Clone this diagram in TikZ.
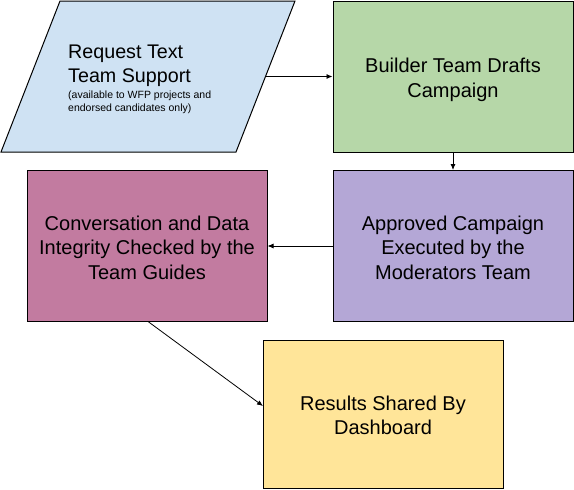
\documentclass[tikz,border=0pt]{standalone}
\usepackage{fontspec}
\setmainfont{Liberation Sans}
\usetikzlibrary{arrows.meta}
\definecolor{cblue}{HTML}{CFE2F3}
\definecolor{cgreen}{HTML}{B6D7A8}
\definecolor{cpurple}{HTML}{B4A7D6}
\definecolor{cmagenta}{HTML}{C27BA0}
\definecolor{cyellow}{HTML}{FFE599}
\newcommand\tbeg{\rule{0pt}{21.5pt}}
\newcommand\tend{\rule[-4.5pt]{0pt}{0pt}}
\begin{document}
\begin{tikzpicture}[x=1pt,y=-1pt,
  box/.style={draw=black, line width=1pt, minimum width=240pt, minimum height=151pt,
    align=center, font=\fontsize{20}{24.5}\selectfont, inner sep=0pt},
  bigtext/.style={align=left, font=\fontsize{19.7}{24.5}\selectfont, inner sep=0pt},
  smalltext/.style={align=left, font=\fontsize{10.5}{13}\selectfont, inner sep=0pt},
  conn/.style={-{Latex[length=6pt,width=5pt]}, line width=0.8pt}]
\useasboundingbox (0,0) rectangle (574,490);
% parallelogram
\coordinate (p1) at (60,1);
\coordinate (p2) at (295,1);
\coordinate (p3) at (236,152);
\coordinate (p4) at (1,152);
\filldraw[fill=cblue, draw=black, line width=1pt] (p1) -- (p2) -- (p3) -- (p4) -- cycle;
\coordinate (reqR) at (265.7,76.5);
\node[bigtext, anchor=west] (req) at (68,66) {Request Text\\Team Support};
\node[smalltext, anchor=west] (reqnote) at (68,102) {(available to WFP projects and\\endorsed candidates only)};
% boxes
\node[box, fill=cgreen] (build) at (453,76.5) {\tbeg Builder Team Drafts\\Campaign\tend};
\node[box, fill=cpurple] (exec) at (453,246) {\tbeg Approved Campaign\\Executed by the\\Moderators Team\tend};
\node[box, fill=cmagenta] (check) at (147,246) {\tbeg Conversation and Data\\Integrity Checked by the\\Team Guides\tend};
\node[box, fill=cyellow, minimum height=148pt] (res) at (383,414) {\tbeg Results Shared By\\Dashboard\tend};
% connectors
\draw[conn] (reqR) -- (build.west);
\draw[conn] (build.south) -- (exec.north);
\draw[conn] (exec.west) -- (check.east);
\coordinate (chk) at (148,321.5);
\coordinate (resin) at (263,406);
\draw[conn] (chk) -- (resin);
\end{tikzpicture}
\end{document}
